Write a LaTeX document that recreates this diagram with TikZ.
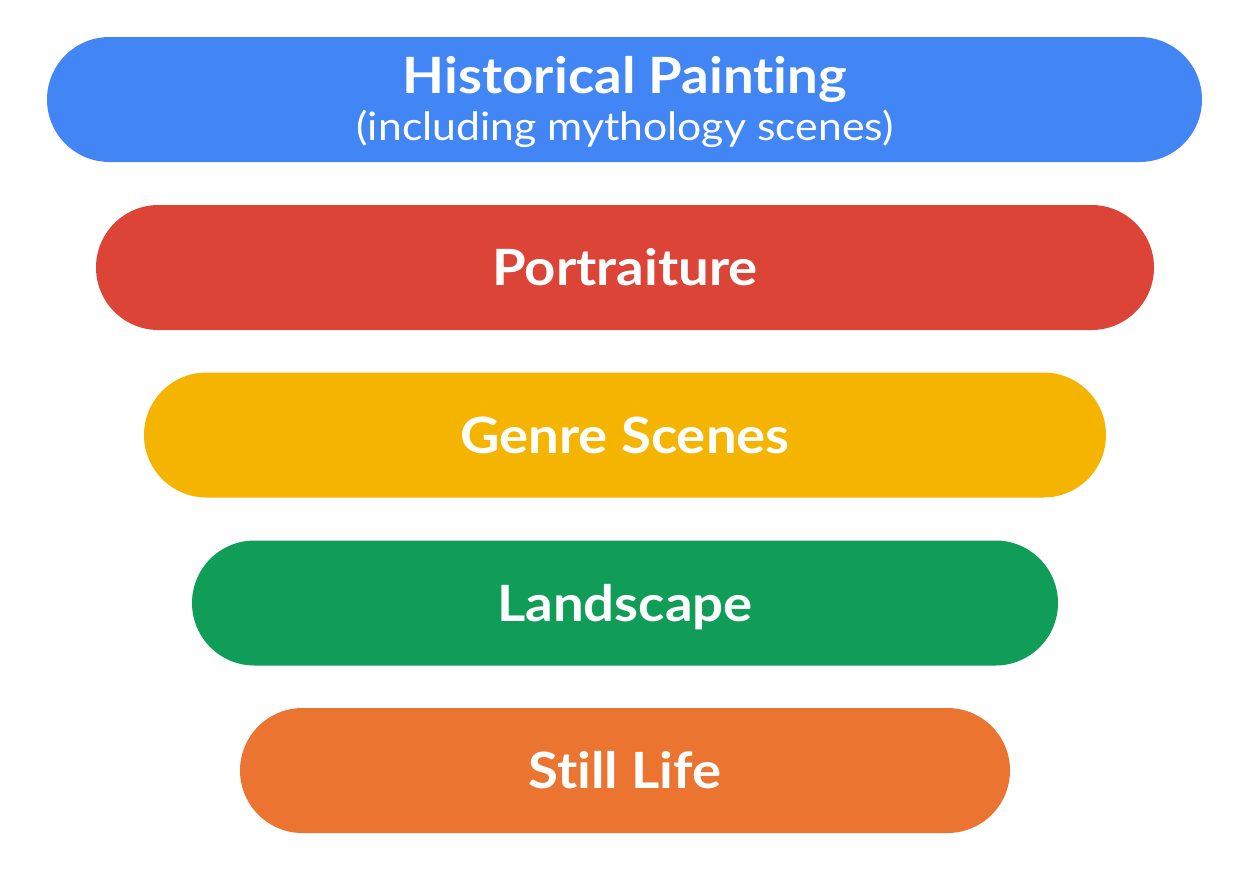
\documentclass[tikz,border=0pt]{standalone}
\usepackage{fontspec}
\setmainfont{Lato}
\newfontfamily\lblfont[FakeStretch=1.09,Ligatures={NoCommon}]{Lato}
\usetikzlibrary{shapes.misc}
\definecolor{gblue}{HTML}{4285F4}
\definecolor{gred}{HTML}{DB4437}
\definecolor{gyellow}{HTML}{F4B400}
\definecolor{ggreen}{HTML}{0F9D58}
\definecolor{gorange}{HTML}{EA7430}
\tikzset{
  pill/.style={rounded rectangle, inner sep=0pt, minimum height=125pt},
  lbl/.style={anchor=base, text=white, inner sep=0pt, font=\lblfont\fontsize{50}{50}\selectfont\bfseries},
  sublbl/.style={anchor=base, text=white, inner sep=0pt, font=\lblfont\fontsize{39.2}{39.2}\selectfont}
}
\begin{document}
\begin{tikzpicture}[x=1pt,y=-1pt]
\useasboundingbox (0,0) rectangle (1250,871);
\node[pill, fill=gblue, minimum width=1155pt] (p1) at (624.5,99.5) {};
\node[pill, fill=gred, minimum width=1058pt] (p2) at (625,267.5) {};
\node[pill, fill=gyellow, minimum width=962pt] (p3) at (625,435) {};
\node[pill, fill=ggreen, minimum width=866pt] (p4) at (625,603) {};
\node[pill, fill=gorange, minimum width=770pt] (p5) at (625,770.5) {};
\node[lbl] (t1) at (625,93) {Historical Painting};
\node[sublbl] (t1b) at (625,140) {(including mythology scenes)};
\node[lbl] (t2) at (625,285.5) {Portraiture};
\node[lbl] (t3) at (625,453) {Genre Scenes};
\node[lbl] (t4) at (625,621) {Landscape};
\node[lbl] (t5) at (625,788.5) {Still Life};
\end{tikzpicture}
\end{document}
